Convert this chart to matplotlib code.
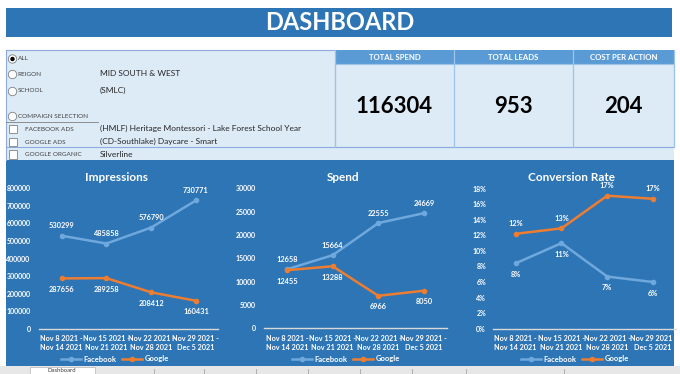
import matplotlib
matplotlib.use("Agg")
import matplotlib.pyplot as plt
import numpy as np
from matplotlib.patches import Rectangle, Ellipse
from matplotlib.lines import Line2D

plt.rcParams['font.family'] = ['Lato', 'DejaVu Sans']

W, H = 680, 374

# ---------------- data ----------------
categories = ["Nov 8 2021 -\nNov 14 2021", "Nov 15 2021 -\nNov 21 2021",
              "Nov 22 2021 -\nNov 28 2021", "Nov 29 2021 -\nDec 5 2021"]
series_names = ["Facebook", "Google"]
impr_facebook = [530299, 485858, 576790, 730771]
impr_google = [287656, 289258, 208412, 160431]
spend_facebook = [12658, 15664, 22555, 24669]
spend_google = [12455, 13288, 6966, 8050]
conv_facebook = [0.084, 0.110, 0.067, 0.060]
conv_google = [0.122, 0.129, 0.171, 0.167]
kpi_labels = ["TOTAL SPEND", "TOTAL LEADS", "COST PER ACTION"]
kpi_values = [116304, 953, 204]
filter_options = ["ALL", "REIGON", "SCHOOL", "COMPAIGN SELECTION"]
filter_checks = ["FACEBOOK ADS", "GOOGLE ADS", "GOOGLE ORGANIC"]
filter_values = ["MID SOUTH & WEST", "(SMLC)",
                 "(HMLF) Heritage Montessori - Lake Forest School Year",
                 "(CD-Southlake) Daycare - Smart", "Silverline"]

# ---------------- colours ----------------
BLUE = "#2E75B6"
LIGHT = "#DDEBF7"
HEAD = "#5B9BD5"
BORDER = "#9DC3E6"
FB_C = "#6FA8DC"
GG_C = "#ED7D31"

fig = plt.figure(figsize=(W / 100, H / 100), dpi=100)
fig.patch.set_facecolor("white")


def rect(x0, y0, x1, y1, zorder=-2, **kw):
    fig.patches.append(Rectangle((x0 / W, 1 - y1 / H), (x1 - x0) / W, (y1 - y0) / H,
                                 transform=fig.transFigure, zorder=zorder, **kw))


def hline(x0, x1, y, **kw):
    fig.add_artist(Line2D([x0 / W, x1 / W], [1 - y / H, 1 - y / H], transform=fig.transFigure, **kw))


def vline(x, y0, y1, **kw):
    fig.add_artist(Line2D([x / W, x / W], [1 - y0 / H, 1 - y1 / H], transform=fig.transFigure, **kw))


def txt(x, y, s, **kw):
    return fig.text(x / W, 1 - y / H, s, **kw)


def circ(x, y, r, **kw):
    fig.patches.append(Ellipse((x / W, 1 - y / H), 2 * r / W, 2 * r / H,
                               transform=fig.transFigure, **kw))


# ---------------- banner ----------------
rect(6, 7.5, 672, 37, facecolor=BLUE, edgecolor="none")
txt(340, 23, "DASHBOARD", ha="center", va="center", fontsize=17, fontweight="bold", color="white")

# ---------------- light panel ----------------
rect(6, 50, 674, 160, facecolor=LIGHT, edgecolor="none")
vline(6, 50, 160, color="#8FAADC", lw=0.8)
hline(6, 335, 50, color="#8FAADC", lw=0.8)
hline(6, 674, 147, color="#8FAADC", lw=0.8)

# KPI block
kx = [335, 454, 572.7, 674]
rect(335, 50, 674, 63.5, facecolor=HEAD, edgecolor="none")
rect(335, 63.5, 674, 147, zorder=-1, facecolor=LIGHT, edgecolor=BORDER, lw=0.8)
for xv in kx:
    vline(xv, 50, 147, color=BORDER, lw=0.9)
for i, (lab, val) in enumerate(zip(kpi_labels, kpi_values)):
    cx = (kx[i] + kx[i + 1]) / 2
    txt(cx, 57, lab, ha="center", va="center", fontsize=5.6, fontweight="bold", color="white")
    txt(cx, 106.5, str(val), ha="center", va="center", fontsize=16, fontweight="bold", color="black")

# filter options (radio buttons)
radio_y = [58.5, 74, 91, 116]
for i, (lab, ry) in enumerate(zip(filter_options, radio_y)):
    circ(12.5, ry + 0.5, 4.2, facecolor="white", edgecolor="#7F7F7F", lw=0.6)
    if i == 0:
        circ(12.5, ry + 0.5, 2.2, facecolor="black", edgecolor="none")
    txt(17.5, ry, lab, ha="left", va="center", fontsize=4.6, color="#404040")
hline(6, 98, 121.5, color="#7F7F7F", lw=0.6)

check_y = [129, 142, 155]
for lab, cy in zip(filter_checks, check_y):
    rect(8.5, cy - 4.5, 16.5, cy + 4, zorder=1, facecolor="white", edgecolor="#7F7F7F", lw=0.6)
    txt(25, cy, lab, ha="left", va="center", fontsize=4.6, color="#404040")

value_y = [73.7, 90.3, 128, 141.7, 154.5]
for s, vy in zip(filter_values, value_y):
    txt(100, vy, s, ha="left", va="center", fontsize=6, color="#262626")

# ---------------- chart band ----------------
rect(6, 160, 674, 366, facecolor=BLUE, edgecolor="none")

# bottom sheet-tab strip
rect(0, 366, 680, 374, facecolor="#E7E7E7", edgecolor="none")
rect(30, 367.5, 95, 374.5, zorder=-1, facecolor="white", edgecolor="#BFBFBF", lw=0.6)
for xs in [154, 204, 256, 308, 360, 412, 466, 564]:
    vline(xs, 368.5, 374, color="#A6A6A6", lw=0.6)
txt(62, 371, "Dashboard", ha="center", va="center", fontsize=4.3, color="#404040")

charts = [
    dict(title="Impressions", fb=impr_facebook, gg=impr_google, ymax=800000, step=100000,
         box=(39.3, 218.3, 188.3, 329), pad=6.3, tx=117, leg=115, fmt=lambda v: f"{int(v)}",
         fb_up=True),
    dict(title="Spend", fb=spend_facebook, gg=spend_google, ymax=30000, step=5000,
         box=(264.3, 446.7, 188.3, 328.3), pad=6.2, tx=343, leg=346, fmt=lambda v: f"{int(v)}",
         fb_up=True),
    dict(title="Conversion Rate", fb=conv_facebook, gg=conv_google, ymax=0.18, step=0.02,
         box=(492.7, 676, 188.7, 328.7), pad=4.8, tx=572, leg=575, fmt=lambda v: f"{v:.0%}",
         fb_up=False),
]

x = np.arange(len(categories))
for c in charts:
    l, r, t, b = c["box"]
    ax = fig.add_axes([l / W, 1 - b / H, (r - l) / W, (b - t) / H])
    ax.patch.set_visible(False)
    ax.set_xlim(-0.5, len(categories) - 0.5)
    ax.set_ylim(0, c["ymax"])
    ticks = np.arange(0, c["ymax"] + c["step"] / 2, c["step"])
    ax.set_yticks(ticks)
    ax.set_yticklabels([c["fmt"](v) for v in ticks], fontsize=5, fontweight="bold", color="white")
    ax.tick_params(axis="y", length=0, pad=c["pad"])
    ax.set_xticks(x)
    ax.set_xticklabels(categories, fontsize=5.2, fontweight="bold", color="white", linespacing=1.35)
    ax.tick_params(axis="x", length=0, pad=4.5)
    for sp in ["left", "right", "top"]:
        ax.spines[sp].set_visible(False)
    ax.spines["bottom"].set_color("#D9D9D9")
    ax.spines["bottom"].set_linewidth(1.0)

    h_fb, = ax.plot(x, c["fb"], color=FB_C, lw=1.8, marker="o", ms=3, zorder=3, clip_on=False)
    h_gg, = ax.plot(x, c["gg"], color=GG_C, lw=1.8, marker="o", ms=3, zorder=3, clip_on=False)

    up, down = 7.2, -7.9
    for i in range(len(categories)):
        ax.annotate(c["fmt"](c["fb"][i]), (x[i], c["fb"][i]),
                    xytext=(0, up if c["fb_up"] else down), textcoords="offset points",
                    ha="center", va="center", fontsize=5.3, fontweight="bold", color="white")
        ax.annotate(c["fmt"](c["gg"][i]), (x[i], c["gg"][i]),
                    xytext=(0, down if c["fb_up"] else up), textcoords="offset points",
                    ha="center", va="center", fontsize=5.3, fontweight="bold", color="white")

    txt(c["tx"], 177.5, c["title"], ha="center", va="center", fontsize=8.5,
        fontweight="bold", color="white")

    ax.legend([h_fb, h_gg], series_names, loc="center",
              bbox_to_anchor=(c["leg"] / W, 1 - 359 / H), bbox_transform=fig.transFigure,
              ncol=2, frameon=False, prop={"size": 5.5, "weight": "bold"}, labelcolor="white",
              handlelength=2.6, handletextpad=0.3, columnspacing=0.8, borderpad=0)

fig.savefig("out.png", dpi=100)
